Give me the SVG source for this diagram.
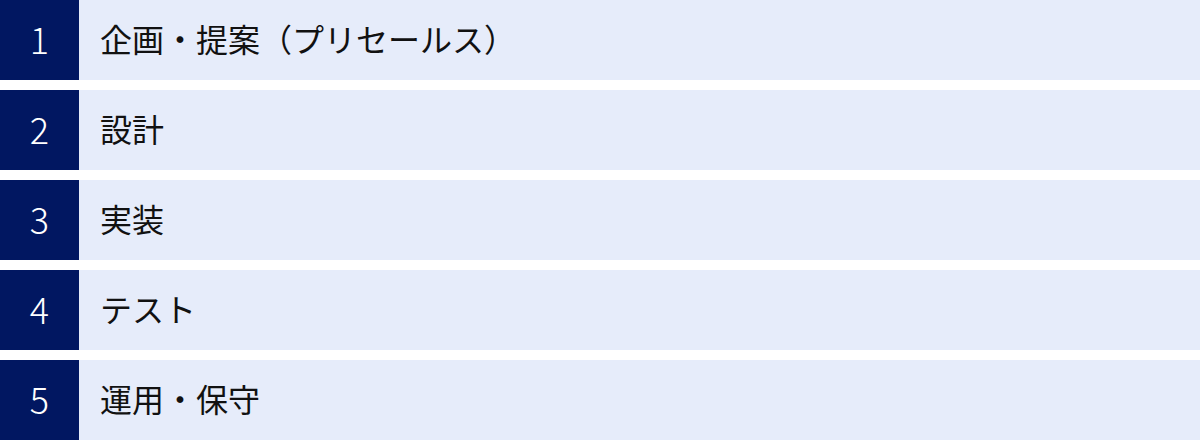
<svg xmlns="http://www.w3.org/2000/svg" width="1200" height="441" viewBox="0 0 1200 441">
<style>
.bar{fill:#E6ECFA}
.num-bg{fill:#011761}
.num{font-family:"Noto Sans CJK JP","Noto Sans",sans-serif;font-size:36px;font-weight:300;fill:#FFFFFF;text-anchor:middle}
.lbl{font-family:"Noto Sans CJK JP",sans-serif;font-size:32px;font-weight:400;fill:#111111}
</style>
<rect width="1200" height="441" fill="#FFFFFF"/>
<g id="step1">
<rect class="bar" x="0" y="0" width="1200" height="80"/>
<rect class="num-bg" x="0" y="0" width="79" height="80"/>
<text class="num" x="39.5" y="54">1</text>
<text class="lbl" x="100" y="52">企画・提案（プリセールス）</text>
</g>
<g id="step2">
<rect class="bar" x="0" y="90" width="1200" height="80"/>
<rect class="num-bg" x="0" y="90" width="79" height="80"/>
<text class="num" x="39.5" y="144">2</text>
<text class="lbl" x="100" y="142">設計</text>
</g>
<g id="step3">
<rect class="bar" x="0" y="180" width="1200" height="80"/>
<rect class="num-bg" x="0" y="180" width="79" height="80"/>
<text class="num" x="39.5" y="234">3</text>
<text class="lbl" x="100" y="232">実装</text>
</g>
<g id="step4">
<rect class="bar" x="0" y="270" width="1200" height="80"/>
<rect class="num-bg" x="0" y="270" width="79" height="80"/>
<text class="num" x="39.5" y="324">4</text>
<text class="lbl" x="100" y="322">テスト</text>
</g>
<g id="step5">
<rect class="bar" x="0" y="360" width="1200" height="80"/>
<rect class="num-bg" x="0" y="360" width="79" height="80"/>
<text class="num" x="39.5" y="414">5</text>
<text class="lbl" x="100" y="412">運用・保守</text>
</g>
<g id="connectors"></g>
</svg>
